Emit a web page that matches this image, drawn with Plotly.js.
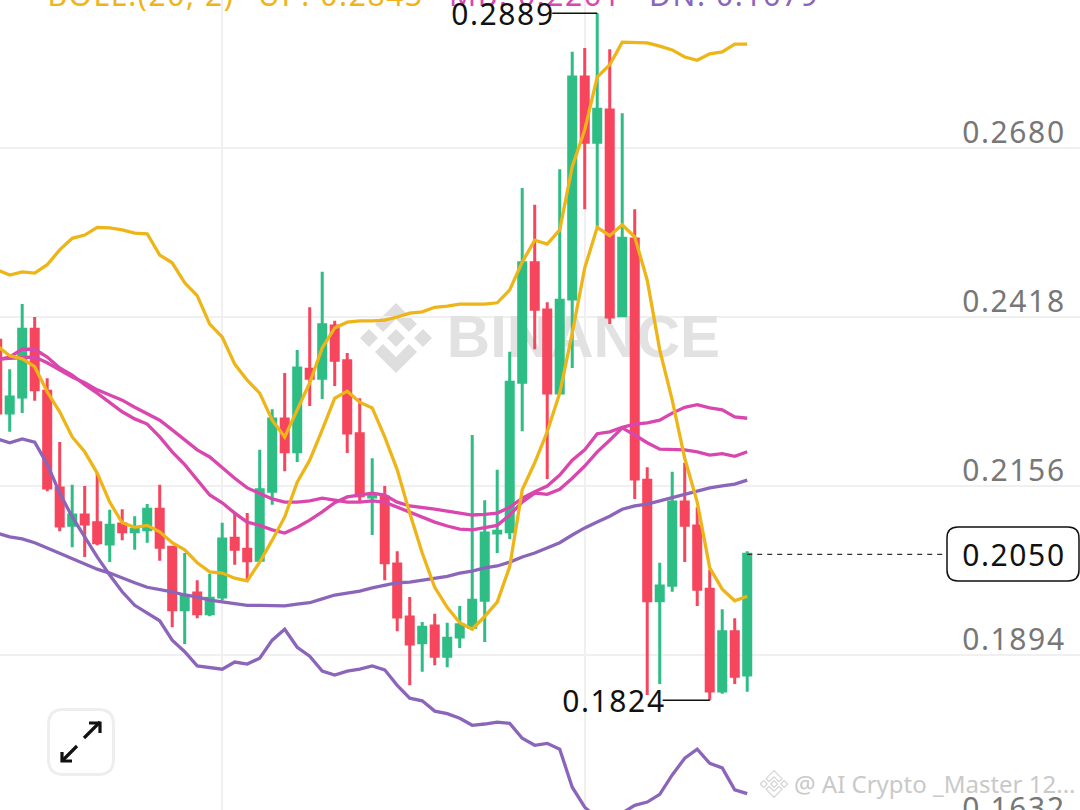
<!DOCTYPE html>
<html><head><meta charset="utf-8">
<script src="https://cdn.plot.ly/plotly-3.0.1.min.js"></script>
<style>html,body{margin:0;padding:0;background:#fff}#c{width:1080px;height:810px}
#c .annotation-text{letter-spacing:1.6px}
#c g.annotation[data-index="12"] .annotation-text{letter-spacing:0}
</style>
</head><body><div id="c"></div>
<script>
const open=[.2382,.2269,.2294,.2399,.2303,.2153,.2095,.2111,.2099,.2066,.2097,.2085,.2088,.2120,.2061,.1964,.1990,.1958,.1984,.2075,.2058,.2041,.2148,.2260,.2209,.2337,.2323,.2404,.2350,.2237,.2139,.2139,.2035,.1953,.1913,.1939,.1892,.1922,.1937,.1979,.2083,.2085,.2317,.2502,.2429,.2300,.2446,.2790,.2689,.2739,.2420,.2539,.2165,.1978,.2002,.2131,.2094,.1996,.1838,.1930,.1863];
const high=[.2390,.2337,.2438,.2418,.2323,.2224,.2158,.2156,.2176,.2119,.2120,.2109,.2128,.2158,.2061,.2052,.2010,.2020,.2099,.2116,.2114,.2212,.2275,.2331,.2367,.2433,.2488,.2412,.2362,.2292,.2199,.2156,.2055,.1984,.1945,.1958,.1944,.1970,.2235,.2134,.2181,.2364,.2618,.2592,.2441,.2647,.2829,.2835,.2889,.2833,.2734,.2585,.2185,.2037,.2178,.2192,.2123,.2026,.1965,.1951,.2055];
const low=[.2261,.2240,.2269,.2288,.2148,.2086,.2061,.2046,.2064,.2038,.2072,.2057,.2068,.2040,.1937,.1911,.1951,.1954,.1979,.2034,.2010,.2040,.2127,.2179,.2193,.2280,.2291,.2311,.2207,.2130,.2080,.2010,.1931,.1847,.1868,.1878,.1875,.1905,.1936,.1914,.2052,.2074,.2241,.2368,.2167,.2299,.2339,.2585,.2557,.2407,.2420,.2136,.1832,.1849,.1992,.2038,.1970,.1824,.1834,.1849,.1837];
const close=[.2269,.2294,.2399,.2305,.2153,.2094,.2111,.2097,.2068,.2095,.2085,.2089,.2120,.2061,.1964,.1985,.1958,.1982,.2074,.2058,.2040,.2150,.2260,.2209,.2339,.2323,.2406,.2351,.2238,.2141,.2142,.2037,.1953,.1911,.1937,.1892,.1920,.1941,.1979,.2083,.2086,.2317,.2502,.2430,.2300,.2444,.2790,.2689,.2740,.2418,.2540,.2167,.1978,.2001,.2131,.2095,.1996,.1838,.1930,.1861,.2050];
const bollUp=[.2491,.2483,.2488,.2486,.2499,.2522,.2540,.2545,.2557,.2556,.2553,.2548,.2547,.2514,.2502,.2471,.2451,.2407,.2387,.2345,.2320,.2300,.2258,.2232,.2274,.2316,.2370,.2401,.2410,.2412,.2412,.2413,.2418,.2424,.2426,.2433,.2435,.2438,.2438,.2438,.2440,.2460,.2503,.2537,.2531,.2553,.2651,.2708,.2790,.2809,.2844,.2844,.2843,.2838,.2832,.2821,.2816,.2826,.2829,.2841,.2841];
const maGold=[.2373,.2358,.2353,.2341,.2302,.2271,.2232,.2209,.2176,.2131,.2099,.2092,.2095,.2085,.2068,.2057,.2037,.2023,.2021,.2013,.2009,.2038,.2072,.2108,.2162,.2196,.2243,.2292,.2303,.2286,.2277,.2232,.2181,.2114,.2052,.1999,.1968,.1944,.1934,.1954,.1976,.2031,.2150,.2192,.2240,.2300,.2393,.2494,.2557,.2544,.2561,.2542,.2475,.2367,.2289,.2199,.2131,.2029,.1996,.1978,.1985];
const bollMid=[.2351,.2356,.2368,.2368,.2356,.2339,.2328,.2313,.2300,.2286,.2271,.2260,.2252,.2232,.2209,.2189,.2165,.2142,.2130,.2114,.2100,.2095,.2088,.2083,.2092,.2103,.2116,.2130,.2139,.2142,.2145,.2142,.2131,.2125,.2123,.2120,.2117,.2114,.2111,.2112,.2114,.2123,.2137,.2147,.2156,.2173,.2196,.2212,.2237,.2240,.2247,.2252,.2254,.2258,.2269,.2278,.2282,.2277,.2274,.2263,.2261];
const maPink=[.2353,.2354,.2356,.2356,.2347,.2336,.2325,.2316,.2305,.2297,.2289,.2278,.2268,.2258,.2243,.2227,.2212,.2201,.2184,.2168,.2153,.2145,.2136,.2131,.2131,.2133,.2137,.2134,.2131,.2131,.2133,.2131,.2123,.2116,.2108,.2100,.2094,.2089,.2088,.2091,.2095,.2111,.2131,.2145,.2143,.2151,.2168,.2187,.2209,.2227,.2246,.2235,.2223,.2213,.2213,.2212,.2209,.2204,.2206,.2202,.2209];
const maPurple=[.2083,.2077,.2074,.2068,.2060,.2052,.2043,.2035,.2027,.2021,.2013,.2006,.1999,.1996,.1992,.1987,.1984,.1979,.1976,.1973,.1971,.1971,.1971,.1970,.1973,.1975,.1981,.1987,.1990,.1993,.1998,.2002,.2006,.2007,.2010,.2013,.2016,.2021,.2024,.2029,.2032,.2038,.2046,.2052,.2060,.2068,.2080,.2091,.2100,.2109,.2120,.2125,.2128,.2133,.2137,.2143,.2148,.2153,.2156,.2159,.2165];
const bollDn=[.2229,.2223,.2229,.2224,.2190,.2145,.2108,.2077,.2046,.2018,.1992,.1971,.1959,.1947,.1917,.1899,.1877,.1874,.1872,.1883,.1880,.1889,.1917,.1934,.1906,.1892,.1869,.1863,.1869,.1872,.1877,.1871,.1847,.1827,.1823,.1807,.1803,.1796,.1785,.1787,.1790,.1788,.1765,.1754,.1757,.1748,.1689,.1658,.1641,.1635,.1649,.1661,.1666,.1678,.1708,.1734,.1748,.1726,.1719,.1685,.1679];
const tickValues=[0.2680,0.2418,0.2156,0.1894,0.1632];
const tickLabels=["0.2680","0.2418","0.2156","0.1894","0.1632"];
const lastPrice=0.2050, highLabel=0.2889, lowLabel=0.1824;
const idx=open.map((_,i)=>i-1);
const GREEN="#2EBD85",RED="#F6465D",GOLD="#EDB517",PINK="#D946AE",PURPLE="#8B65B9";
const yRange=[0.16537,0.29094], xRange=[-0.776,85.62];
const W=1080,H=810;
const px=x=>(x/W).toFixed(5), py=y=>(1-y/H).toFixed(5);
const vy=v=>(v-yRange[0])/(yRange[1]-yRange[0]);
const FONT="'Noto Sans', sans-serif";
const FS=30;
const path=pts=>"M"+pts.map(p=>px(p[0])+","+py(p[1])).join("L");
function poly(pts,o){return Object.assign({type:"path",xref:"paper",yref:"paper",path:path(pts)+"Z"},o);}
function logo(cx,cy,k,o){
  const P=a=>a.map(p=>[cx+p[0]*k,cy+p[1]*k]);
  return [
    [[0,-35],[21,-14],[13,-6],[0,-19],[-13,-6],[-21,-14]],
    [[0,35],[21,14],[13,6],[0,19],[-13,6],[-21,14]],
    [[0,-9],[9,0],[0,9],[-9,0]],
    [[27,-9],[36,0],[27,9],[18,0]],
    [[-27,-9],[-18,0],[-27,9],[-36,0]]
  ].map(a=>poly(P(a),o));
}
function rrect(x0,y0,x1,y1,r){
  const X=px,Y=py;
  return "M"+X(x0+r)+","+Y(y0)+"L"+X(x1-r)+","+Y(y0)+"Q"+X(x1)+","+Y(y0)+" "+X(x1)+","+Y(y0+r)+
   "L"+X(x1)+","+Y(y1-r)+"Q"+X(x1)+","+Y(y1)+" "+X(x1-r)+","+Y(y1)+"L"+X(x0+r)+","+Y(y1)+
   "Q"+X(x0)+","+Y(y1)+" "+X(x0)+","+Y(y1-r)+"L"+X(x0)+","+Y(y0+r)+"Q"+X(x0)+","+Y(y0)+" "+X(x0+r)+","+Y(y0)+"Z";
}
const lineTrace=(y,color)=>({type:"scatter",mode:"lines",x:idx,y:y,yaxis:"y2",hoverinfo:"skip",line:{color:color,width:3.3,shape:"linear"}});
const traces=[
 {type:"scatter",mode:"text",x:[45.9],y:[0.2379],text:["BINANCE"],textposition:"middle center",hoverinfo:"skip",
  textfont:{family:"Liberation Sans",size:60,color:"#e2e2e2",weight:700},cliponaxis:false},
 {type:"candlestick",x:idx,open:open,high:high,low:low,close:close,yaxis:"y2",hoverinfo:"skip",whiskerwidth:0,
  increasing:{line:{color:GREEN,width:3},fillcolor:GREEN},
  decreasing:{line:{color:RED,width:3},fillcolor:RED}},
 lineTrace(maPurple,PURPLE),lineTrace(bollDn,PURPLE),
 lineTrace(bollMid,PINK),lineTrace(maPink,PINK),
 lineTrace(bollUp,GOLD),lineTrace(maGold,GOLD)
];
const ann=[];
tickValues.forEach((v,i)=>ann.push({xref:"paper",yref:"paper",x:1063/W,y:vy(v),yshift:16,xanchor:"right",yanchor:"middle",showarrow:false,text:tickLabels[i],font:{family:FONT,size:FS,color:"#777777"}}));
[["BOLL:(20, 2)",55,"#EDB517"],["UP: 0.2843",264,"#EDB517"],["MB: 0.2261",455,PINK],["DN: 0.1679",655,PURPLE]].forEach(a=>
 ann.push({xref:"paper",yref:"paper",x:a[1]/W,y:1+5/H,xanchor:"left",yanchor:"middle",showarrow:false,text:a[0],font:{family:FONT,size:FS,color:a[2]}}));
ann.push({xref:"x",yref:"y2",x:47,y:highLabel,ax:-45,ay:0,axref:"pixel",ayref:"pixel",showarrow:true,arrowhead:0,arrowwidth:1.5,arrowcolor:"#111",xanchor:"right",yanchor:"middle",text:highLabel.toFixed(4),font:{family:FONT,size:FS,color:"#111"}});
ann.push({xref:"x",yref:"y2",x:56,y:lowLabel,ax:-47,ay:0,axref:"pixel",ayref:"pixel",showarrow:true,arrowhead:0,arrowwidth:1.5,arrowcolor:"#111",xanchor:"right",yanchor:"middle",text:lowLabel.toFixed(4),font:{family:FONT,size:FS,color:"#111"}});
ann.push({xref:"paper",yref:"paper",x:1063/W,y:vy(lastPrice),xanchor:"right",yanchor:"middle",showarrow:false,text:lastPrice.toFixed(4),font:{family:FONT,size:FS,color:"#111"}});
ann.push({xref:"paper",yref:"paper",x:792/W,y:1-783/H,xanchor:"left",yanchor:"middle",showarrow:false,text:"@ AI Crypto _Master 12...",font:{family:"Noto Sans",size:24,color:"#c9c9c9"}});
const shapes=[
 ...logo(396,338,1,{layer:"below",fillcolor:"#dedede",line:{width:0}}),
 {type:"line",xref:"x",yref:"y",x0:59,x1:75,y0:lastPrice,y1:lastPrice,line:{color:"#333",width:1.2,dash:"5px,5px"}},
 {type:"path",xref:"paper",yref:"paper",path:rrect(947,527,1079,581,11),fillcolor:"#fff",line:{color:"#111",width:1.5}},
 {type:"path",xref:"paper",yref:"paper",path:rrect(48.5,709.5,113.5,774.5,15),fillcolor:"#fff",line:{color:"#eeeeee",width:3}},
 {type:"path",xref:"paper",yref:"paper",path:path([[84,738],[100,722]]),line:{color:"#111",width:3.2}},
 {type:"path",xref:"paper",yref:"paper",path:path([[89,723],[100,723],[100,733]]),line:{color:"#111",width:3.2}},
 {type:"path",xref:"paper",yref:"paper",path:path([[77,746],[62,761]]),line:{color:"#111",width:3.2}},
 {type:"path",xref:"paper",yref:"paper",path:path([[62,752],[62,761],[72,761]]),line:{color:"#111",width:3.2}},
 ...logo(774,784,0.38,{fillcolor:"rgba(0,0,0,0)",line:{color:"#d4d4d4",width:1.2}})
];
const layout={
 width:W,height:H,margin:{l:0,r:0,t:0,b:0,pad:0},paper_bgcolor:"#fff",plot_bgcolor:"#fff",showlegend:false,
 boxgap:0.25,boxgroupgap:0.25,hovermode:false,
 xaxis:{range:xRange,autorange:false,tickmode:"array",tickvals:[17,46],showticklabels:false,ticks:"",showgrid:true,gridcolor:"#f0f0f0",gridwidth:2,zeroline:false,showline:false,rangeslider:{visible:false},fixedrange:true},
 yaxis:{range:yRange,autorange:false,tickmode:"array",tickvals:tickValues,showticklabels:false,ticks:"",showgrid:true,gridcolor:"#f0f0f0",gridwidth:2,zeroline:false,showline:false,fixedrange:true},
 yaxis2:{range:yRange,autorange:false,overlaying:"y",side:"right",showticklabels:false,ticks:"",showgrid:false,zeroline:false,showline:false,fixedrange:true},
 annotations:ann,shapes:shapes
};
Plotly.newPlot("c",traces,layout,{displayModeBar:false,staticPlot:true});
</script></body></html>
